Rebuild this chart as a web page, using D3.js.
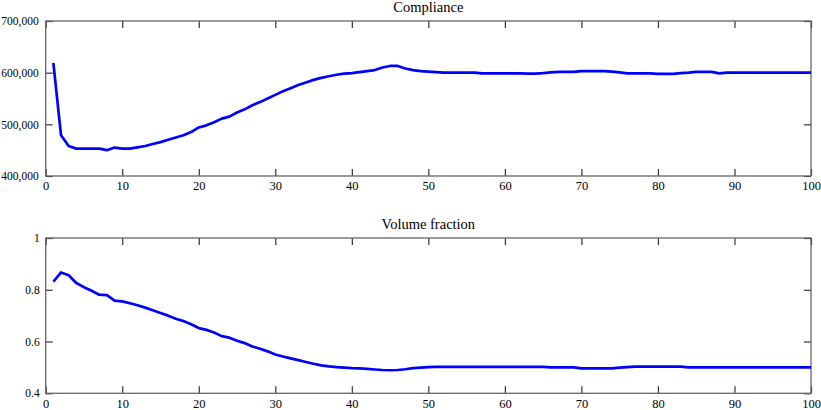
<!DOCTYPE html>
<html>
<head>
<meta charset="utf-8">
<script src="https://cdn.jsdelivr.net/npm/d3@7"></script>
<style>
  html, body { margin: 0; padding: 0; background: #fff; }
  svg { display: block; }
</style>
</head>
<body>
<svg id="chart" width="821" height="410"></svg>
<script>
// iterations 1..100
var iterations = d3.range(1, 101)

// compliance per iteration
var compliance = [
  619000, 479000, 458000, 453000, 453000, 453000, 453000, 450000, 455000, 453000,
  453000, 455500, 458000, 462000, 465500, 470000, 474500, 479000, 485000, 494000,
  498000, 504000, 511000, 515000, 523000, 529000, 537000, 543000, 550000, 557000,
  564000, 570000, 576000, 581000, 586000, 590000, 593000, 596000, 598000, 599000,
  601000, 603000, 605000, 610000, 613000, 613000, 608000, 605000, 603000, 602000,
  601000, 600000, 600000, 600000, 600000, 600000, 598500, 598500, 598500, 598500,
  598500, 598500, 598000, 598000, 599000, 600500, 601500, 601500, 601500, 603000,
  603000, 603000, 603000, 602000, 600500, 598500, 598500, 598500, 598500, 597500,
  597500, 597500, 599000, 600000, 601500, 601500, 601500, 598500, 600000, 600000,
  600000, 600000, 600000, 600000, 600000, 600000, 600000, 600000, 600000, 600000
]

// volume fraction per iteration
var volumeFraction = [
  0.831, 0.867, 0.856, 0.826, 0.810, 0.796, 0.781, 0.779, 0.758, 0.755,
  0.748, 0.740, 0.731, 0.721, 0.710, 0.700, 0.688, 0.679, 0.667, 0.652,
  0.645, 0.635, 0.621, 0.615, 0.603, 0.594, 0.581, 0.572, 0.562, 0.550,
  0.542, 0.535, 0.528, 0.521, 0.514, 0.508, 0.504, 0.501, 0.499, 0.497,
  0.496, 0.494, 0.492, 0.490, 0.489, 0.490, 0.493, 0.497, 0.499, 0.501,
  0.502, 0.502, 0.502, 0.502, 0.502, 0.502, 0.502, 0.502, 0.502, 0.502,
  0.502, 0.502, 0.502, 0.502, 0.502, 0.500, 0.500, 0.500, 0.500, 0.496,
  0.496, 0.496, 0.496, 0.496, 0.499, 0.501, 0.503, 0.503, 0.503, 0.503,
  0.503, 0.503, 0.503, 0.500, 0.500, 0.500, 0.500, 0.500, 0.500, 0.500,
  0.500, 0.500, 0.500, 0.500, 0.500, 0.500, 0.500, 0.500, 0.500, 0.500
]

var xTicks = [0, 10, 20, 30, 40, 50, 60, 70, 80, 90, 100]
var complianceTicks = [400000, 500000, 600000, 700000]
var complianceLabels = ['400,000', '500,000', '600,000', '700,000']
var volumeTicks = [0.4, 0.6, 0.8, 1]
var volumeLabels = ['0.4', '0.6', '0.8', '1']

var serif = "'Liberation Serif', 'Times New Roman', Times, serif"

var svg = d3.select('#chart')
var left = 45.7, right = 811
var x = d3.scaleLinear().domain([0, 100]).range([left, right])

function drawPanel(opts) {
  var y = d3.scaleLinear().domain(opts.domain).range([opts.bottom, opts.top])
  var g = svg.append('g')

  // inward ticks on all four sides
  var bottomAxis = d3.axisBottom(x).tickValues(xTicks).tickSizeInner(-7).tickSizeOuter(0).tickPadding(5)
  var topAxis = d3.axisTop(x).tickValues(xTicks).tickSizeInner(-7).tickSizeOuter(0).tickFormat('')
  var leftAxis = d3.axisLeft(y).tickValues(opts.ticks).tickSizeInner(-7).tickSizeOuter(0)
    .tickPadding(opts.labelPad).tickFormat((d, i) => opts.labels[i])
  var rightAxis = d3.axisRight(y).tickValues(opts.ticks).tickSizeInner(-7).tickSizeOuter(0).tickFormat('')

  var gb = g.append('g').attr('transform', `translate(0,${opts.bottom})`).call(bottomAxis)
  gb.attr('font-family', null).attr('font-size', null)
  gb.selectAll('text').attr('dy', '0.75em').attr('fill', '#000')
    .style('font-family', serif).style('font-size', '12.5px')
  g.append('g').attr('transform', `translate(0,${opts.top})`).call(topAxis)
  var gl = g.append('g').attr('transform', `translate(${left},0)`).call(leftAxis)
  gl.attr('font-family', null).attr('font-size', null)
  gl.selectAll('text').attr('fill', '#000')
    .style('font-family', serif).style('font-size', '11.5px')
  g.append('g').attr('transform', `translate(${right},0)`).call(rightAxis)

  g.selectAll('.domain').remove()
  g.selectAll('.tick line').attr('stroke', '#333').attr('stroke-width', 1.2)

  // frame
  g.append('rect')
    .attr('x', left).attr('y', opts.top)
    .attr('width', right - left).attr('height', opts.bottom - opts.top)
    .attr('fill', 'none').attr('stroke', '#666').attr('stroke-width', 1.3)

  var line = d3.line()
    .x((d, i) => x(iterations[i]))
    .y((d) => y(d))

  g.append('path')
    .datum(opts.values)
    .attr('fill', 'none')
    .attr('stroke', '#0000ff')
    .attr('stroke-width', 2.7)
    .attr('stroke-linejoin', 'round')
    .attr('d', line)

  g.append('text')
    .attr('x', (left + right) / 2)
    .attr('y', opts.titleY)
    .attr('text-anchor', 'middle')
    .attr('fill', '#000')
    .style('font-family', serif)
    .style('font-size', '14.5px')
    .text(opts.title)
}

drawPanel({
  title: 'Compliance', titleY: 12,
  top: 21, bottom: 176,
  domain: [400000, 700000],
  ticks: complianceTicks, labels: complianceLabels,
  values: compliance, labelPad: 7
})

drawPanel({
  title: 'Volume fraction', titleY: 229,
  top: 238, bottom: 393.3,
  domain: [0.4, 1],
  ticks: volumeTicks, labels: volumeLabels,
  values: volumeFraction, labelPad: 6
})
</script>
</body>
</html>
